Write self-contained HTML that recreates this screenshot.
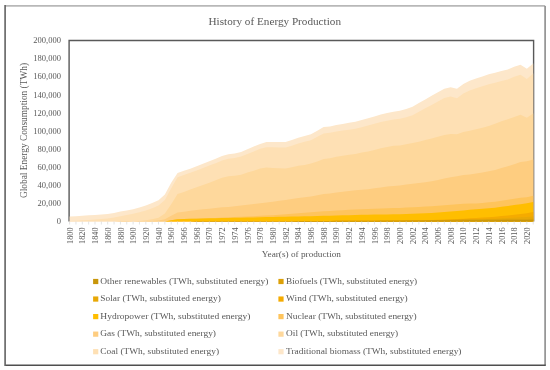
<!DOCTYPE html>
<html><head><meta charset="utf-8"><style>
html,body{margin:0;padding:0;background:#fff;}
body{width:550px;height:370px;overflow:hidden;position:relative;}
svg{position:absolute;left:0;top:0;filter:blur(0.5px);}
text{font-family:"Liberation Serif",serif;fill:#595959;}
</style></head><body>
<svg width="550" height="370" viewBox="0 0 550 370">
<rect x="0" y="0" width="550" height="370" fill="#fff"/>
<line x1="5.1" y1="5.9" x2="545.2" y2="5.9" stroke="#b8b8b8" stroke-width="1.6"/>
<line x1="545.1" y1="5.9" x2="545.1" y2="365.3" stroke="#8c8c8c" stroke-width="1.6"/>
<line x1="5.1" y1="365.3" x2="545.8" y2="365.3" stroke="#4f4f4f" stroke-width="1.4"/>
<line x1="5.1" y1="5.1" x2="5.1" y2="366" stroke="#626262" stroke-width="1.6"/>
<text x="208.5" y="24.8" textLength="132.5" lengthAdjust="spacingAndGlyphs" style="font-size:10.8px">History of Energy Production</text>
<path d="M69.1,221.5 V40.5 H533.6 V221.5" fill="none" stroke="#595959" stroke-width="1.4"/>
<polygon points="69.60,216.59 75.95,216.19 82.30,215.78 88.65,215.37 95.00,214.94 101.35,214.50 107.70,214.06 114.05,212.90 120.41,211.62 126.76,210.41 133.11,209.20 139.46,207.48 145.81,205.59 152.16,203.09 158.51,200.17 164.86,194.58 171.21,182.82 177.56,173.12 183.91,170.81 190.26,168.70 196.61,166.30 202.96,163.63 209.32,161.27 215.67,158.80 222.02,156.03 228.37,154.27 234.72,153.59 241.07,152.05 247.42,149.31 253.77,146.61 260.12,143.94 266.47,142.10 272.82,142.10 279.17,142.10 285.52,142.10 291.87,140.02 298.22,137.64 304.58,135.89 310.93,134.15 317.28,130.64 323.63,127.10 329.98,126.40 336.33,124.98 342.68,123.90 349.03,122.83 355.38,121.77 361.73,120.09 368.08,118.30 374.43,116.39 380.78,114.43 387.13,113.02 393.48,111.64 399.84,110.72 406.19,108.97 412.54,106.76 418.89,103.07 425.24,99.45 431.59,95.86 437.94,92.27 444.29,88.68 450.64,87.26 456.99,88.72 463.34,83.93 469.69,80.75 476.04,78.55 482.39,76.40 488.75,74.26 495.10,72.66 501.45,71.06 507.80,69.45 514.15,66.67 520.50,64.72 526.85,68.86 533.20,63.57 533.20,221.50 69.60,221.50" fill="#fde7ca"/><polygon points="69.60,221.11 75.95,220.71 82.30,220.31 88.65,219.90 95.00,219.46 101.35,219.02 107.70,218.59 114.05,217.42 120.41,216.15 126.76,214.94 133.11,213.73 139.46,212.19 145.81,210.47 152.16,208.16 158.51,205.42 164.86,200.01 171.21,188.25 177.56,177.19 183.91,174.93 190.26,172.86 196.61,170.51 202.96,167.88 209.32,165.57 215.67,163.14 222.02,160.42 228.37,158.71 234.72,158.07 241.07,156.57 247.42,153.97 253.77,151.41 260.12,148.87 266.47,147.17 272.82,147.30 279.17,147.44 285.52,147.58 291.87,145.63 298.22,143.39 304.58,141.78 310.93,140.17 317.28,136.80 323.63,133.39 329.98,132.83 336.33,131.54 342.68,130.60 349.03,129.67 355.38,128.74 361.73,127.20 368.08,125.54 374.43,123.81 380.78,122.03 387.13,120.80 393.48,119.61 399.84,118.87 406.19,117.30 412.54,115.27 418.89,111.76 425.24,108.32 431.59,104.91 437.94,101.42 444.29,97.93 450.64,96.61 456.99,98.18 463.34,93.48 469.69,90.41 476.04,88.31 482.39,86.26 488.75,84.22 495.10,82.71 501.45,81.11 507.80,79.51 514.15,76.73 520.50,74.78 526.85,78.91 533.20,73.62 533.20,221.50 69.60,221.50" fill="#fee0b4"/><polygon points="69.60,221.50 75.95,221.50 82.30,221.50 88.65,221.50 95.00,221.50 101.35,221.50 107.70,221.50 114.05,221.42 120.41,221.16 126.76,220.98 133.11,221.18 139.46,220.95 145.81,220.24 152.16,219.14 158.51,217.77 164.86,213.46 171.21,204.16 177.56,193.99 183.91,191.88 190.26,189.54 196.61,187.32 202.96,185.04 209.32,182.65 215.67,180.36 222.02,177.79 228.37,176.19 234.72,175.76 241.07,174.69 247.42,172.59 253.77,170.66 260.12,168.51 266.47,167.58 272.82,168.04 279.17,168.26 285.52,168.45 291.87,167.27 298.22,165.87 304.58,165.11 310.93,163.62 317.28,161.44 323.63,158.90 329.98,158.15 336.33,156.80 342.68,155.69 349.03,154.67 355.38,153.94 361.73,152.61 368.08,151.43 374.43,149.95 380.78,148.22 387.13,146.92 393.48,145.78 399.84,145.53 406.19,144.21 412.54,143.08 418.89,141.68 425.24,139.96 431.59,138.48 437.94,136.66 444.29,134.88 450.64,133.94 456.99,134.34 463.34,131.89 469.69,130.86 476.04,129.29 482.39,127.86 488.75,126.06 495.10,123.77 501.45,121.23 507.80,119.36 514.15,117.04 520.50,114.67 526.85,117.73 533.20,113.55 533.20,221.50 69.60,221.50" fill="#fed89c"/><polygon points="69.60,221.50 75.95,221.50 82.30,221.50 88.65,221.50 95.00,221.50 101.35,221.50 107.70,221.50 114.05,221.50 120.41,221.37 126.76,221.36 133.11,221.42 139.46,221.35 145.81,221.27 152.16,220.88 158.51,220.57 164.86,219.27 171.21,215.63 177.56,212.52 183.91,211.68 190.26,210.78 196.61,210.05 202.96,209.33 209.32,208.69 215.67,207.99 222.02,207.36 228.37,207.01 234.72,206.25 241.07,205.48 247.42,204.84 253.77,204.06 260.12,203.25 266.47,202.50 272.82,201.72 279.17,200.83 285.52,200.01 291.87,198.99 298.22,198.11 304.58,197.28 310.93,196.43 317.28,195.25 323.63,194.08 329.98,193.38 336.33,192.44 342.68,191.66 349.03,191.04 355.38,190.36 361.73,189.73 368.08,189.13 374.43,188.36 380.78,187.51 387.13,186.59 393.48,185.98 399.84,185.52 406.19,184.57 412.54,183.72 418.89,182.92 425.24,182.25 431.59,181.35 437.94,179.95 444.29,178.61 450.64,177.27 456.99,176.31 463.34,175.06 469.69,174.38 476.04,173.54 482.39,172.53 488.75,171.26 495.10,169.98 501.45,167.96 507.80,166.18 514.15,164.20 520.50,162.04 526.85,161.28 533.20,159.50 533.20,221.50 69.60,221.50" fill="#fecd80"/><polygon points="69.60,221.50 75.95,221.50 82.30,221.50 88.65,221.50 95.00,221.50 101.35,221.50 107.70,221.50 114.05,221.50 120.41,221.50 126.76,221.50 133.11,221.50 139.46,221.50 145.81,221.50 152.16,221.50 158.51,221.50 164.86,221.50 171.21,220.23 177.56,219.08 183.91,218.90 190.26,218.72 196.61,218.53 202.96,218.35 209.32,218.16 215.67,217.88 222.02,217.60 228.37,217.32 234.72,217.04 241.07,216.76 247.42,216.46 253.77,216.16 260.12,215.86 266.47,215.56 272.82,215.26 279.17,214.74 285.52,214.22 291.87,213.71 298.22,213.19 304.58,212.68 310.93,212.23 317.28,211.79 323.63,211.35 329.98,210.90 336.33,210.46 342.68,210.16 349.03,209.86 355.38,209.57 361.73,209.27 368.08,208.97 374.43,208.75 380.78,208.54 387.13,208.32 393.48,208.11 399.84,207.89 406.19,207.57 412.54,207.25 418.89,206.93 425.24,206.61 431.59,206.29 437.94,205.77 444.29,205.27 450.64,204.77 456.99,204.27 463.34,203.77 469.69,203.58 476.04,203.49 482.39,202.88 488.75,202.27 495.10,201.66 501.45,200.70 507.80,199.74 514.15,198.79 520.50,197.83 526.85,197.13 533.20,195.75 533.20,221.50 69.60,221.50" fill="#fec45c"/><polygon points="69.60,221.50 75.95,221.50 82.30,221.50 88.65,221.50 95.00,221.50 101.35,221.50 107.70,221.50 114.05,221.50 120.41,221.50 126.76,221.50 133.11,221.50 139.46,221.50 145.81,221.50 152.16,221.50 158.51,221.50 164.86,221.50 171.21,220.23 177.56,219.15 183.91,218.99 190.26,218.83 196.61,218.68 202.96,218.52 209.32,218.36 215.67,218.22 222.02,218.09 228.37,217.95 234.72,217.81 241.07,217.67 247.42,217.53 253.77,217.39 260.12,217.25 266.47,217.11 272.82,216.97 279.17,216.84 285.52,216.70 291.87,216.57 298.22,216.43 304.58,216.30 310.93,216.14 317.28,215.99 323.63,215.83 329.98,215.68 336.33,215.53 342.68,215.36 349.03,215.18 355.38,215.01 361.73,214.84 368.08,214.67 374.43,214.58 380.78,214.49 387.13,214.41 393.48,214.32 399.84,214.23 406.19,213.98 412.54,213.73 418.89,213.48 425.24,213.24 431.59,212.99 437.94,212.47 444.29,211.94 450.64,211.42 456.99,210.90 463.34,210.38 469.69,209.83 476.04,209.28 482.39,208.73 488.75,208.18 495.10,207.63 501.45,206.79 507.80,205.94 514.15,205.10 520.50,204.26 526.85,203.29 533.20,202.09 533.20,221.50 69.60,221.50" fill="#ffbe00"/><polygon points="69.60,221.50 75.95,221.50 82.30,221.50 88.65,221.50 95.00,221.50 101.35,221.50 107.70,221.50 114.05,221.50 120.41,221.50 126.76,221.50 133.11,221.50 139.46,221.50 145.81,221.50 152.16,221.50 158.51,221.50 164.86,221.50 171.21,221.50 177.56,221.41 183.91,221.40 190.26,221.39 196.61,221.37 202.96,221.36 209.32,221.35 215.67,221.34 222.02,221.33 228.37,221.31 234.72,221.30 241.07,221.29 247.42,221.28 253.77,221.26 260.12,221.25 266.47,221.24 272.82,221.23 279.17,221.20 285.52,221.17 291.87,221.15 298.22,221.12 304.58,221.09 310.93,221.05 317.28,221.00 323.63,220.96 329.98,220.91 336.33,220.87 342.68,220.84 349.03,220.81 355.38,220.79 361.73,220.76 368.08,220.74 374.43,220.70 380.78,220.67 387.13,220.63 393.48,220.60 399.84,220.56 406.19,220.46 412.54,220.36 418.89,220.25 425.24,220.15 431.59,220.05 437.94,219.78 444.29,219.51 450.64,219.24 456.99,218.97 463.34,218.70 469.69,218.32 476.04,217.93 482.39,217.54 488.75,217.16 495.10,216.77 501.45,216.09 507.80,215.40 514.15,214.72 520.50,214.03 526.85,213.33 533.20,212.04 533.20,221.50 69.60,221.50" fill="#f5ab00"/><polygon points="69.60,221.50 75.95,221.50 82.30,221.50 88.65,221.50 95.00,221.50 101.35,221.50 107.70,221.50 114.05,221.50 120.41,221.50 126.76,221.50 133.11,221.50 139.46,221.50 145.81,221.50 152.16,221.50 158.51,221.50 164.86,221.50 171.21,221.50 177.56,221.41 183.91,221.40 190.26,221.39 196.61,221.37 202.96,221.36 209.32,221.35 215.67,221.34 222.02,221.33 228.37,221.31 234.72,221.30 241.07,221.29 247.42,221.28 253.77,221.26 260.12,221.25 266.47,221.24 272.82,221.23 279.17,221.20 285.52,221.17 291.87,221.15 298.22,221.12 304.58,221.09 310.93,221.05 317.28,221.00 323.63,220.96 329.98,220.91 336.33,220.87 342.68,220.84 349.03,220.82 355.38,220.80 361.73,220.78 368.08,220.75 374.43,220.73 380.78,220.71 387.13,220.69 393.48,220.66 399.84,220.64 406.19,220.57 412.54,220.50 418.89,220.44 425.24,220.37 431.59,220.30 437.94,220.14 444.29,219.99 450.64,219.83 456.99,219.67 463.34,219.52 469.69,219.35 476.04,219.18 482.39,219.01 488.75,218.84 495.10,218.67 501.45,218.32 507.80,217.98 514.15,217.64 520.50,217.29 526.85,216.95 533.20,216.39 533.20,221.50 69.60,221.50" fill="#e8a806"/><polygon points="69.60,221.50 75.95,221.50 82.30,221.50 88.65,221.50 95.00,221.50 101.35,221.50 107.70,221.50 114.05,221.50 120.41,221.50 126.76,221.50 133.11,221.50 139.46,221.50 145.81,221.50 152.16,221.50 158.51,221.50 164.86,221.50 171.21,221.50 177.56,221.41 183.91,221.40 190.26,221.39 196.61,221.37 202.96,221.36 209.32,221.35 215.67,221.34 222.02,221.33 228.37,221.31 234.72,221.30 241.07,221.29 247.42,221.28 253.77,221.26 260.12,221.25 266.47,221.24 272.82,221.23 279.17,221.20 285.52,221.17 291.87,221.15 298.22,221.12 304.58,221.09 310.93,221.05 317.28,221.00 323.63,220.96 329.98,220.91 336.33,220.87 342.68,220.84 349.03,220.82 355.38,220.80 361.73,220.78 368.08,220.75 374.43,220.73 380.78,220.71 387.13,220.69 393.48,220.66 399.84,220.64 406.19,220.57 412.54,220.50 418.89,220.44 425.24,220.37 431.59,220.30 437.94,220.16 444.29,220.02 450.64,219.88 456.99,219.74 463.34,219.60 469.69,219.53 476.04,219.46 482.39,219.39 488.75,219.33 495.10,219.26 501.45,219.17 507.80,219.09 514.15,219.00 520.50,218.92 526.85,218.94 533.20,218.83 533.20,221.50 69.60,221.50" fill="#dca008"/><polygon points="69.60,221.50 75.95,221.50 82.30,221.50 88.65,221.50 95.00,221.50 101.35,221.50 107.70,221.50 114.05,221.50 120.41,221.50 126.76,221.50 133.11,221.50 139.46,221.50 145.81,221.50 152.16,221.50 158.51,221.50 164.86,221.50 171.21,221.50 177.56,221.41 183.91,221.40 190.26,221.39 196.61,221.37 202.96,221.36 209.32,221.35 215.67,221.34 222.02,221.33 228.37,221.31 234.72,221.30 241.07,221.29 247.42,221.28 253.77,221.26 260.12,221.25 266.47,221.24 272.82,221.23 279.17,221.20 285.52,221.17 291.87,221.15 298.22,221.12 304.58,221.09 310.93,221.07 317.28,221.04 323.63,221.01 329.98,220.98 336.33,220.96 342.68,220.94 349.03,220.93 355.38,220.92 361.73,220.90 368.08,220.89 374.43,220.88 380.78,220.86 387.13,220.85 393.48,220.83 399.84,220.82 406.19,220.78 412.54,220.74 418.89,220.70 425.24,220.66 431.59,220.62 437.94,220.58 444.29,220.54 450.64,220.50 456.99,220.45 463.34,220.41 469.69,220.36 476.04,220.31 482.39,220.26 488.75,220.21 495.10,220.16 501.45,220.11 507.80,220.06 514.15,220.01 520.50,219.96 526.85,219.89 533.20,219.83 533.20,221.50 69.60,221.50" fill="#c8960a"/>
<line x1="69.60" y1="221.5" x2="69.60" y2="224.5" stroke="#d9d9d9" stroke-width="0.75"/><line x1="75.95" y1="221.5" x2="75.95" y2="224.5" stroke="#d9d9d9" stroke-width="0.75"/><line x1="82.30" y1="221.5" x2="82.30" y2="224.5" stroke="#d9d9d9" stroke-width="0.75"/><line x1="88.65" y1="221.5" x2="88.65" y2="224.5" stroke="#d9d9d9" stroke-width="0.75"/><line x1="95.00" y1="221.5" x2="95.00" y2="224.5" stroke="#d9d9d9" stroke-width="0.75"/><line x1="101.35" y1="221.5" x2="101.35" y2="224.5" stroke="#d9d9d9" stroke-width="0.75"/><line x1="107.70" y1="221.5" x2="107.70" y2="224.5" stroke="#d9d9d9" stroke-width="0.75"/><line x1="114.05" y1="221.5" x2="114.05" y2="224.5" stroke="#d9d9d9" stroke-width="0.75"/><line x1="120.41" y1="221.5" x2="120.41" y2="224.5" stroke="#d9d9d9" stroke-width="0.75"/><line x1="126.76" y1="221.5" x2="126.76" y2="224.5" stroke="#d9d9d9" stroke-width="0.75"/><line x1="133.11" y1="221.5" x2="133.11" y2="224.5" stroke="#d9d9d9" stroke-width="0.75"/><line x1="139.46" y1="221.5" x2="139.46" y2="224.5" stroke="#d9d9d9" stroke-width="0.75"/><line x1="145.81" y1="221.5" x2="145.81" y2="224.5" stroke="#d9d9d9" stroke-width="0.75"/><line x1="152.16" y1="221.5" x2="152.16" y2="224.5" stroke="#d9d9d9" stroke-width="0.75"/><line x1="158.51" y1="221.5" x2="158.51" y2="224.5" stroke="#d9d9d9" stroke-width="0.75"/><line x1="164.86" y1="221.5" x2="164.86" y2="224.5" stroke="#d9d9d9" stroke-width="0.75"/><line x1="171.21" y1="221.5" x2="171.21" y2="224.5" stroke="#d9d9d9" stroke-width="0.75"/><line x1="177.56" y1="221.5" x2="177.56" y2="224.5" stroke="#d9d9d9" stroke-width="0.75"/><line x1="183.91" y1="221.5" x2="183.91" y2="224.5" stroke="#d9d9d9" stroke-width="0.75"/><line x1="190.26" y1="221.5" x2="190.26" y2="224.5" stroke="#d9d9d9" stroke-width="0.75"/><line x1="196.61" y1="221.5" x2="196.61" y2="224.5" stroke="#d9d9d9" stroke-width="0.75"/><line x1="202.96" y1="221.5" x2="202.96" y2="224.5" stroke="#d9d9d9" stroke-width="0.75"/><line x1="209.32" y1="221.5" x2="209.32" y2="224.5" stroke="#d9d9d9" stroke-width="0.75"/><line x1="215.67" y1="221.5" x2="215.67" y2="224.5" stroke="#d9d9d9" stroke-width="0.75"/><line x1="222.02" y1="221.5" x2="222.02" y2="224.5" stroke="#d9d9d9" stroke-width="0.75"/><line x1="228.37" y1="221.5" x2="228.37" y2="224.5" stroke="#d9d9d9" stroke-width="0.75"/><line x1="234.72" y1="221.5" x2="234.72" y2="224.5" stroke="#d9d9d9" stroke-width="0.75"/><line x1="241.07" y1="221.5" x2="241.07" y2="224.5" stroke="#d9d9d9" stroke-width="0.75"/><line x1="247.42" y1="221.5" x2="247.42" y2="224.5" stroke="#d9d9d9" stroke-width="0.75"/><line x1="253.77" y1="221.5" x2="253.77" y2="224.5" stroke="#d9d9d9" stroke-width="0.75"/><line x1="260.12" y1="221.5" x2="260.12" y2="224.5" stroke="#d9d9d9" stroke-width="0.75"/><line x1="266.47" y1="221.5" x2="266.47" y2="224.5" stroke="#d9d9d9" stroke-width="0.75"/><line x1="272.82" y1="221.5" x2="272.82" y2="224.5" stroke="#d9d9d9" stroke-width="0.75"/><line x1="279.17" y1="221.5" x2="279.17" y2="224.5" stroke="#d9d9d9" stroke-width="0.75"/><line x1="285.52" y1="221.5" x2="285.52" y2="224.5" stroke="#d9d9d9" stroke-width="0.75"/><line x1="291.87" y1="221.5" x2="291.87" y2="224.5" stroke="#d9d9d9" stroke-width="0.75"/><line x1="298.22" y1="221.5" x2="298.22" y2="224.5" stroke="#d9d9d9" stroke-width="0.75"/><line x1="304.58" y1="221.5" x2="304.58" y2="224.5" stroke="#d9d9d9" stroke-width="0.75"/><line x1="310.93" y1="221.5" x2="310.93" y2="224.5" stroke="#d9d9d9" stroke-width="0.75"/><line x1="317.28" y1="221.5" x2="317.28" y2="224.5" stroke="#d9d9d9" stroke-width="0.75"/><line x1="323.63" y1="221.5" x2="323.63" y2="224.5" stroke="#d9d9d9" stroke-width="0.75"/><line x1="329.98" y1="221.5" x2="329.98" y2="224.5" stroke="#d9d9d9" stroke-width="0.75"/><line x1="336.33" y1="221.5" x2="336.33" y2="224.5" stroke="#d9d9d9" stroke-width="0.75"/><line x1="342.68" y1="221.5" x2="342.68" y2="224.5" stroke="#d9d9d9" stroke-width="0.75"/><line x1="349.03" y1="221.5" x2="349.03" y2="224.5" stroke="#d9d9d9" stroke-width="0.75"/><line x1="355.38" y1="221.5" x2="355.38" y2="224.5" stroke="#d9d9d9" stroke-width="0.75"/><line x1="361.73" y1="221.5" x2="361.73" y2="224.5" stroke="#d9d9d9" stroke-width="0.75"/><line x1="368.08" y1="221.5" x2="368.08" y2="224.5" stroke="#d9d9d9" stroke-width="0.75"/><line x1="374.43" y1="221.5" x2="374.43" y2="224.5" stroke="#d9d9d9" stroke-width="0.75"/><line x1="380.78" y1="221.5" x2="380.78" y2="224.5" stroke="#d9d9d9" stroke-width="0.75"/><line x1="387.13" y1="221.5" x2="387.13" y2="224.5" stroke="#d9d9d9" stroke-width="0.75"/><line x1="393.48" y1="221.5" x2="393.48" y2="224.5" stroke="#d9d9d9" stroke-width="0.75"/><line x1="399.84" y1="221.5" x2="399.84" y2="224.5" stroke="#d9d9d9" stroke-width="0.75"/><line x1="406.19" y1="221.5" x2="406.19" y2="224.5" stroke="#d9d9d9" stroke-width="0.75"/><line x1="412.54" y1="221.5" x2="412.54" y2="224.5" stroke="#d9d9d9" stroke-width="0.75"/><line x1="418.89" y1="221.5" x2="418.89" y2="224.5" stroke="#d9d9d9" stroke-width="0.75"/><line x1="425.24" y1="221.5" x2="425.24" y2="224.5" stroke="#d9d9d9" stroke-width="0.75"/><line x1="431.59" y1="221.5" x2="431.59" y2="224.5" stroke="#d9d9d9" stroke-width="0.75"/><line x1="437.94" y1="221.5" x2="437.94" y2="224.5" stroke="#d9d9d9" stroke-width="0.75"/><line x1="444.29" y1="221.5" x2="444.29" y2="224.5" stroke="#d9d9d9" stroke-width="0.75"/><line x1="450.64" y1="221.5" x2="450.64" y2="224.5" stroke="#d9d9d9" stroke-width="0.75"/><line x1="456.99" y1="221.5" x2="456.99" y2="224.5" stroke="#d9d9d9" stroke-width="0.75"/><line x1="463.34" y1="221.5" x2="463.34" y2="224.5" stroke="#d9d9d9" stroke-width="0.75"/><line x1="469.69" y1="221.5" x2="469.69" y2="224.5" stroke="#d9d9d9" stroke-width="0.75"/><line x1="476.04" y1="221.5" x2="476.04" y2="224.5" stroke="#d9d9d9" stroke-width="0.75"/><line x1="482.39" y1="221.5" x2="482.39" y2="224.5" stroke="#d9d9d9" stroke-width="0.75"/><line x1="488.75" y1="221.5" x2="488.75" y2="224.5" stroke="#d9d9d9" stroke-width="0.75"/><line x1="495.10" y1="221.5" x2="495.10" y2="224.5" stroke="#d9d9d9" stroke-width="0.75"/><line x1="501.45" y1="221.5" x2="501.45" y2="224.5" stroke="#d9d9d9" stroke-width="0.75"/><line x1="507.80" y1="221.5" x2="507.80" y2="224.5" stroke="#d9d9d9" stroke-width="0.75"/><line x1="514.15" y1="221.5" x2="514.15" y2="224.5" stroke="#d9d9d9" stroke-width="0.75"/><line x1="520.50" y1="221.5" x2="520.50" y2="224.5" stroke="#d9d9d9" stroke-width="0.75"/><line x1="526.85" y1="221.5" x2="526.85" y2="224.5" stroke="#d9d9d9" stroke-width="0.75"/><line x1="533.20" y1="221.5" x2="533.20" y2="224.5" stroke="#d9d9d9" stroke-width="0.75"/>
<g style="font-size:8.5px"><text transform="translate(72.70,227.4) rotate(-90)" text-anchor="end" textLength="16.6" lengthAdjust="spacingAndGlyphs">1800</text><text transform="translate(85.40,227.4) rotate(-90)" text-anchor="end" textLength="16.6" lengthAdjust="spacingAndGlyphs">1820</text><text transform="translate(98.10,227.4) rotate(-90)" text-anchor="end" textLength="16.6" lengthAdjust="spacingAndGlyphs">1840</text><text transform="translate(110.80,227.4) rotate(-90)" text-anchor="end" textLength="16.6" lengthAdjust="spacingAndGlyphs">1860</text><text transform="translate(123.51,227.4) rotate(-90)" text-anchor="end" textLength="16.6" lengthAdjust="spacingAndGlyphs">1880</text><text transform="translate(136.21,227.4) rotate(-90)" text-anchor="end" textLength="16.6" lengthAdjust="spacingAndGlyphs">1900</text><text transform="translate(148.91,227.4) rotate(-90)" text-anchor="end" textLength="16.6" lengthAdjust="spacingAndGlyphs">1920</text><text transform="translate(161.61,227.4) rotate(-90)" text-anchor="end" textLength="16.6" lengthAdjust="spacingAndGlyphs">1940</text><text transform="translate(174.31,227.4) rotate(-90)" text-anchor="end" textLength="16.6" lengthAdjust="spacingAndGlyphs">1960</text><text transform="translate(187.01,227.4) rotate(-90)" text-anchor="end" textLength="16.6" lengthAdjust="spacingAndGlyphs">1966</text><text transform="translate(199.71,227.4) rotate(-90)" text-anchor="end" textLength="16.6" lengthAdjust="spacingAndGlyphs">1968</text><text transform="translate(212.42,227.4) rotate(-90)" text-anchor="end" textLength="16.6" lengthAdjust="spacingAndGlyphs">1970</text><text transform="translate(225.12,227.4) rotate(-90)" text-anchor="end" textLength="16.6" lengthAdjust="spacingAndGlyphs">1972</text><text transform="translate(237.82,227.4) rotate(-90)" text-anchor="end" textLength="16.6" lengthAdjust="spacingAndGlyphs">1974</text><text transform="translate(250.52,227.4) rotate(-90)" text-anchor="end" textLength="16.6" lengthAdjust="spacingAndGlyphs">1976</text><text transform="translate(263.22,227.4) rotate(-90)" text-anchor="end" textLength="16.6" lengthAdjust="spacingAndGlyphs">1978</text><text transform="translate(275.92,227.4) rotate(-90)" text-anchor="end" textLength="16.6" lengthAdjust="spacingAndGlyphs">1980</text><text transform="translate(288.62,227.4) rotate(-90)" text-anchor="end" textLength="16.6" lengthAdjust="spacingAndGlyphs">1982</text><text transform="translate(301.32,227.4) rotate(-90)" text-anchor="end" textLength="16.6" lengthAdjust="spacingAndGlyphs">1984</text><text transform="translate(314.03,227.4) rotate(-90)" text-anchor="end" textLength="16.6" lengthAdjust="spacingAndGlyphs">1986</text><text transform="translate(326.73,227.4) rotate(-90)" text-anchor="end" textLength="16.6" lengthAdjust="spacingAndGlyphs">1988</text><text transform="translate(339.43,227.4) rotate(-90)" text-anchor="end" textLength="16.6" lengthAdjust="spacingAndGlyphs">1990</text><text transform="translate(352.13,227.4) rotate(-90)" text-anchor="end" textLength="16.6" lengthAdjust="spacingAndGlyphs">1992</text><text transform="translate(364.83,227.4) rotate(-90)" text-anchor="end" textLength="16.6" lengthAdjust="spacingAndGlyphs">1994</text><text transform="translate(377.53,227.4) rotate(-90)" text-anchor="end" textLength="16.6" lengthAdjust="spacingAndGlyphs">1996</text><text transform="translate(390.23,227.4) rotate(-90)" text-anchor="end" textLength="16.6" lengthAdjust="spacingAndGlyphs">1998</text><text transform="translate(402.94,227.4) rotate(-90)" text-anchor="end" textLength="16.6" lengthAdjust="spacingAndGlyphs">2000</text><text transform="translate(415.64,227.4) rotate(-90)" text-anchor="end" textLength="16.6" lengthAdjust="spacingAndGlyphs">2002</text><text transform="translate(428.34,227.4) rotate(-90)" text-anchor="end" textLength="16.6" lengthAdjust="spacingAndGlyphs">2004</text><text transform="translate(441.04,227.4) rotate(-90)" text-anchor="end" textLength="16.6" lengthAdjust="spacingAndGlyphs">2006</text><text transform="translate(453.74,227.4) rotate(-90)" text-anchor="end" textLength="16.6" lengthAdjust="spacingAndGlyphs">2008</text><text transform="translate(466.44,227.4) rotate(-90)" text-anchor="end" textLength="16.6" lengthAdjust="spacingAndGlyphs">2010</text><text transform="translate(479.14,227.4) rotate(-90)" text-anchor="end" textLength="16.6" lengthAdjust="spacingAndGlyphs">2012</text><text transform="translate(491.85,227.4) rotate(-90)" text-anchor="end" textLength="16.6" lengthAdjust="spacingAndGlyphs">2014</text><text transform="translate(504.55,227.4) rotate(-90)" text-anchor="end" textLength="16.6" lengthAdjust="spacingAndGlyphs">2016</text><text transform="translate(517.25,227.4) rotate(-90)" text-anchor="end" textLength="16.6" lengthAdjust="spacingAndGlyphs">2018</text><text transform="translate(529.95,227.4) rotate(-90)" text-anchor="end" textLength="16.6" lengthAdjust="spacingAndGlyphs">2020</text></g>
<g style="font-size:8.5px"><text x="60.9" y="224.25" text-anchor="end">0</text><text x="60.9" y="206.15" text-anchor="end">20,000</text><text x="60.9" y="188.05" text-anchor="end">40,000</text><text x="60.9" y="169.95" text-anchor="end">60,000</text><text x="60.9" y="151.85" text-anchor="end">80,000</text><text x="60.9" y="133.75" text-anchor="end">100,000</text><text x="60.9" y="115.65" text-anchor="end">120,000</text><text x="60.9" y="97.55" text-anchor="end">140,000</text><text x="60.9" y="79.45" text-anchor="end">160,000</text><text x="60.9" y="61.35" text-anchor="end">180,000</text><text x="60.9" y="43.25" text-anchor="end">200,000</text></g>
<text transform="translate(27.4,198) rotate(-90)" textLength="135" lengthAdjust="spacingAndGlyphs" style="font-size:9.3px">Global Energy Consumption (TWh)</text>
<text x="261.8" y="256.6" textLength="79.2" lengthAdjust="spacingAndGlyphs" style="font-size:9px">Year(s) of production</text>
<g style="font-size:9px"><rect x="93.1" y="278.90" width="5.2" height="5.2" fill="#c8960a"/><text x="100.3" y="283.80" textLength="168.1" lengthAdjust="spacingAndGlyphs">Other renewables (TWh, substituted energy)</text><rect x="278.4" y="278.90" width="5.2" height="5.2" fill="#dca008"/><text x="286.1" y="283.80" textLength="131.1" lengthAdjust="spacingAndGlyphs">Biofuels (TWh, substituted energy)</text><rect x="93.1" y="296.45" width="5.2" height="5.2" fill="#e8a806"/><text x="100.3" y="301.35" textLength="120.5" lengthAdjust="spacingAndGlyphs">Solar (TWh, substituted energy)</text><rect x="278.4" y="296.45" width="5.2" height="5.2" fill="#f5ab00"/><text x="286.1" y="301.35" textLength="121.6" lengthAdjust="spacingAndGlyphs">Wind (TWh, substituted energy)</text><rect x="93.1" y="314.00" width="5.2" height="5.2" fill="#ffbe00"/><text x="100.3" y="318.90" textLength="150.2" lengthAdjust="spacingAndGlyphs">Hydropower (TWh, substituted energy)</text><rect x="278.4" y="314.00" width="5.2" height="5.2" fill="#fec45c"/><text x="286.1" y="318.90" textLength="130.6" lengthAdjust="spacingAndGlyphs">Nuclear (TWh, substituted energy)</text><rect x="93.1" y="331.55" width="5.2" height="5.2" fill="#fecd80"/><text x="100.3" y="336.45" textLength="115.7" lengthAdjust="spacingAndGlyphs">Gas (TWh, substituted energy)</text><rect x="278.4" y="331.55" width="5.2" height="5.2" fill="#fed89c"/><text x="286.1" y="336.45" textLength="112" lengthAdjust="spacingAndGlyphs">Oil (TWh, substituted energy)</text><rect x="93.1" y="349.10" width="5.2" height="5.2" fill="#fee0b4"/><text x="100.3" y="354.00" textLength="118.8" lengthAdjust="spacingAndGlyphs">Coal (TWh, substituted energy)</text><rect x="278.4" y="349.10" width="5.2" height="5.2" fill="#fde7ca"/><text x="286.1" y="354.00" textLength="175.4" lengthAdjust="spacingAndGlyphs">Traditional biomass (TWh, substituted energy)</text></g>
</svg>
</body></html>
